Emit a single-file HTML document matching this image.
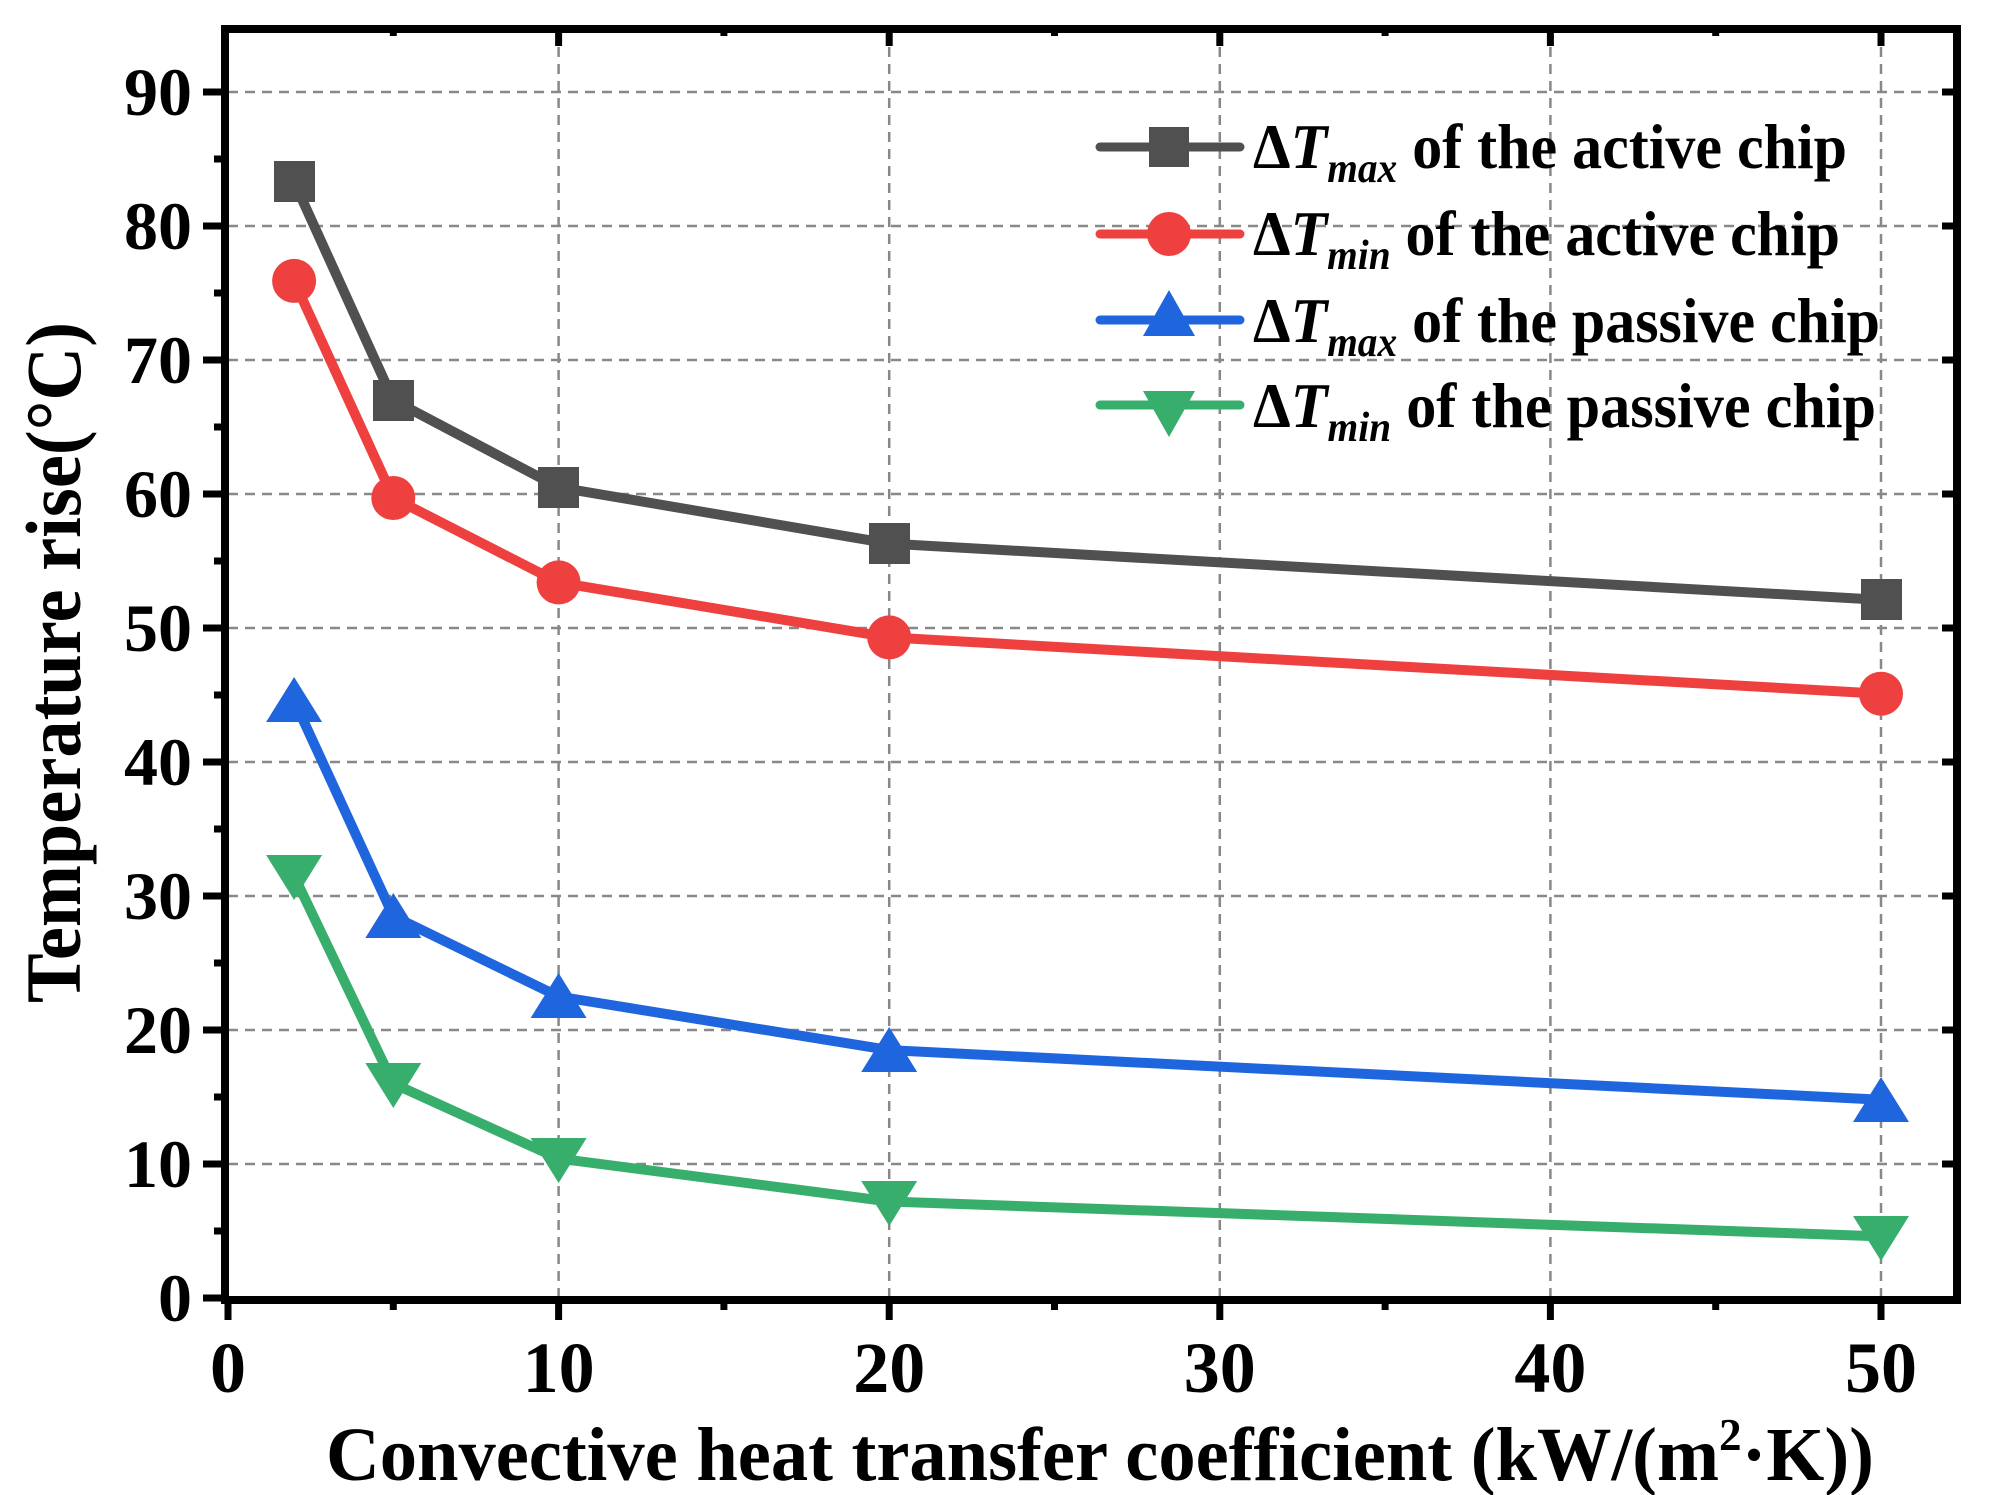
<!DOCTYPE html>
<html><head><meta charset="utf-8"><style>html,body{margin:0;padding:0;background:#fff}svg{display:block}</style></head><body>
<svg width="1994" height="1495" viewBox="0 0 1994 1495" xmlns="http://www.w3.org/2000/svg" font-family="'Liberation Serif', serif" font-weight="bold">
<g stroke="#888" stroke-width="2.5" stroke-dasharray="10,7" fill="none">
<line x1="558.6" y1="30" x2="558.6" y2="1298"/>
<line x1="889.2" y1="30" x2="889.2" y2="1298"/>
<line x1="1219.8" y1="30" x2="1219.8" y2="1298"/>
<line x1="1550.4" y1="30" x2="1550.4" y2="1298"/>
<line x1="1881" y1="30" x2="1881" y2="1298"/>
<line x1="228" y1="1164" x2="1957" y2="1164"/>
<line x1="228" y1="1030" x2="1957" y2="1030"/>
<line x1="228" y1="896" x2="1957" y2="896"/>
<line x1="228" y1="762" x2="1957" y2="762"/>
<line x1="228" y1="628" x2="1957" y2="628"/>
<line x1="228" y1="494" x2="1957" y2="494"/>
<line x1="228" y1="360" x2="1957" y2="360"/>
<line x1="228" y1="226" x2="1957" y2="226"/>
<line x1="228" y1="92" x2="1957" y2="92"/>
</g>
<g stroke-width="10" fill="none" stroke-linejoin="round" stroke-linecap="round">
<polyline stroke="#505050" points="294.1,181.8 393.3,400.2 558.6,487.3 889.2,543.6 1881,599.9"/>
<polyline stroke="#ef4040" points="294.1,280.9 393.3,498 558.6,582.4 889.2,637.4 1881,693.7"/>
<polyline stroke="#1f66de" points="294.1,700.4 393.3,916.1 558.6,996.5 889.2,1050.1 1881,1099.7"/>
<polyline stroke="#38ae6c" points="294.1,875.9 393.3,1083.6 558.6,1158.6 889.2,1201.5 1881,1236.4"/>
</g>
<g fill="#505050">
<rect x="274" y="161" width="41" height="41"/><rect x="373" y="380" width="41" height="41"/><rect x="538" y="467" width="41" height="41"/><rect x="869" y="523" width="41" height="41"/><rect x="1861" y="579" width="41" height="41"/>
</g>
<g fill="#ef4040">
<circle cx="294.1" cy="280.9" r="22"/><circle cx="393.3" cy="498" r="22"/><circle cx="558.6" cy="582.4" r="22"/><circle cx="889.2" cy="637.4" r="22"/><circle cx="1881" cy="693.7" r="22"/>
</g>
<g fill="#1f66de">
<path d="M294.1,677 l28,45 h-56z"/><path d="M393.3,893 l28,45 h-56z"/><path d="M558.6,973 l28,45 h-56z"/><path d="M889.2,1027 l28,45 h-56z"/><path d="M1881,1077 l28,45 h-56z"/>
</g>
<g fill="#38ae6c">
<path d="M294.1,900 l28,-45 h-56z"/><path d="M393.3,1108 l28,-45 h-56z"/><path d="M558.6,1183 l28,-45 h-56z"/><path d="M889.2,1226 l28,-45 h-56z"/><path d="M1881,1261 l28,-45 h-56z"/>
</g>
<rect x="225" y="29" width="1732" height="1271" fill="none" stroke="#000" stroke-width="8"/>
<g stroke="#000" stroke-width="7">
<line x1="203" y1="1298" x2="225" y2="1298"/><line x1="203" y1="1164" x2="225" y2="1164"/><line x1="203" y1="1030" x2="225" y2="1030"/><line x1="203" y1="896" x2="225" y2="896"/><line x1="203" y1="762" x2="225" y2="762"/><line x1="203" y1="628" x2="225" y2="628"/><line x1="203" y1="494" x2="225" y2="494"/><line x1="203" y1="360" x2="225" y2="360"/><line x1="203" y1="226" x2="225" y2="226"/><line x1="203" y1="92" x2="225" y2="92"/>
<line x1="214" y1="1231" x2="225" y2="1231"/><line x1="214" y1="1097" x2="225" y2="1097"/><line x1="214" y1="963" x2="225" y2="963"/><line x1="214" y1="829" x2="225" y2="829"/><line x1="214" y1="695" x2="225" y2="695"/><line x1="214" y1="561" x2="225" y2="561"/><line x1="214" y1="427" x2="225" y2="427"/><line x1="214" y1="293" x2="225" y2="293"/><line x1="214" y1="159" x2="225" y2="159"/>
<line x1="1957" y1="1164" x2="1942" y2="1164"/><line x1="1957" y1="1030" x2="1942" y2="1030"/><line x1="1957" y1="896" x2="1942" y2="896"/><line x1="1957" y1="762" x2="1942" y2="762"/><line x1="1957" y1="628" x2="1942" y2="628"/><line x1="1957" y1="494" x2="1942" y2="494"/><line x1="1957" y1="360" x2="1942" y2="360"/><line x1="1957" y1="226" x2="1942" y2="226"/><line x1="1957" y1="92" x2="1942" y2="92"/>
<line x1="228" y1="1300" x2="228" y2="1320"/><line x1="558.6" y1="1300" x2="558.6" y2="1320"/><line x1="889.2" y1="1300" x2="889.2" y2="1320"/><line x1="1219.8" y1="1300" x2="1219.8" y2="1320"/><line x1="1550.4" y1="1300" x2="1550.4" y2="1320"/><line x1="1881" y1="1300" x2="1881" y2="1320"/>
<line x1="393.3" y1="1300" x2="393.3" y2="1310"/><line x1="723.9" y1="1300" x2="723.9" y2="1310"/><line x1="1054.5" y1="1300" x2="1054.5" y2="1310"/><line x1="1385.1" y1="1300" x2="1385.1" y2="1310"/><line x1="1715.7" y1="1300" x2="1715.7" y2="1310"/>
<line x1="393.3" y1="29" x2="393.3" y2="36"/><line x1="558.6" y1="29" x2="558.6" y2="46"/><line x1="723.9" y1="29" x2="723.9" y2="36"/><line x1="889.2" y1="29" x2="889.2" y2="46"/><line x1="1054.5" y1="29" x2="1054.5" y2="36"/><line x1="1219.8" y1="29" x2="1219.8" y2="46"/><line x1="1385.1" y1="29" x2="1385.1" y2="36"/><line x1="1550.4" y1="29" x2="1550.4" y2="46"/><line x1="1715.7" y1="29" x2="1715.7" y2="36"/><line x1="1881" y1="29" x2="1881" y2="46"/>
</g>
<g font-size="68" text-anchor="end">
<text x="192" y="1321">0</text><text x="192" y="1187">10</text><text x="192" y="1053">20</text><text x="192" y="919">30</text><text x="192" y="785">40</text><text x="192" y="651">50</text><text x="192" y="517">60</text><text x="192" y="383">70</text><text x="192" y="249">80</text><text x="192" y="115">90</text>
</g>
<g font-size="72" text-anchor="middle">
<text x="228" y="1392">0</text><text x="558.6" y="1392">10</text><text x="889.2" y="1392">20</text><text x="1219.8" y="1392">30</text><text x="1550.4" y="1392">40</text><text x="1881" y="1392">50</text>
</g>
<text x="326" y="1480" font-size="76" textLength="1548" lengthAdjust="spacingAndGlyphs">Convective heat transfer coefficient (kW/(m<tspan font-size="46" dy="-30">2</tspan><tspan dy="30">·K))</tspan></text>
<text transform="translate(80,1003) rotate(-90)" font-size="78" textLength="681" lengthAdjust="spacingAndGlyphs">Temperature rise(°C)</text>
<g stroke-width="9" stroke-linecap="round">
<line x1="1100" y1="147" x2="1240" y2="147" stroke="#505050"/>
<line x1="1100" y1="234" x2="1240" y2="234" stroke="#ef4040"/>
<line x1="1100" y1="320" x2="1240" y2="320" stroke="#1f66de"/>
<line x1="1100" y1="405" x2="1240" y2="405" stroke="#38ae6c"/>
</g>
<rect x="1149" y="127" width="40" height="40" fill="#505050"/>
<circle cx="1169" cy="234" r="22" fill="#ef4040"/>
<path d="M1169,290 l26,46 h-52z" fill="#1f66de"/>
<path d="M1169,437 l26,-46 h-52z" fill="#38ae6c"/>
<g font-size="64">
<text x="1253" y="168" textLength="594" lengthAdjust="spacingAndGlyphs">Δ<tspan font-style="italic">T</tspan><tspan font-style="italic" font-size="42" dy="14">max</tspan><tspan dy="-14"> of the active chip</tspan></text>
<text x="1253" y="255" textLength="587" lengthAdjust="spacingAndGlyphs">Δ<tspan font-style="italic">T</tspan><tspan font-style="italic" font-size="42" dy="14">min</tspan><tspan dy="-14"> of the active chip</tspan></text>
<text x="1253" y="342" textLength="627" lengthAdjust="spacingAndGlyphs">Δ<tspan font-style="italic">T</tspan><tspan font-style="italic" font-size="42" dy="14">max</tspan><tspan dy="-14"> of the passive chip</tspan></text>
<text x="1253" y="427" textLength="623" lengthAdjust="spacingAndGlyphs">Δ<tspan font-style="italic">T</tspan><tspan font-style="italic" font-size="42" dy="14">min</tspan><tspan dy="-14"> of the passive chip</tspan></text>
</g>
</svg>
</body></html>
